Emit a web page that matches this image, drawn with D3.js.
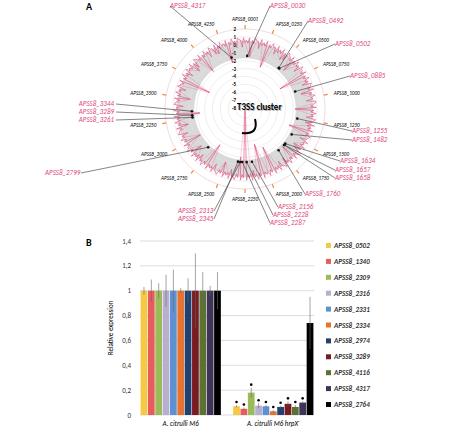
<!DOCTYPE html><html><head><meta charset="utf-8"><script src="https://cdn.jsdelivr.net/npm/d3@7"></script>
<style>body{margin:0;background:#fff}text{font-family:Carlito,"Liberation Sans",Arial,sans-serif}</style></head><body>
<svg id="c" width="474" height="430"></svg>
<script>
// ---------- Panel A data ----------
const genomeTicks=["0001","0250","0500","0750","1000","1250","1500","1750","2000","2250","2500","2750","3000","3250","3500","3750","4000","4250"];
const genomeLen=4500;
const ringValues=[2,1,0,-1,-2,-3,-4,-5,-6,-7,-8];
// log2 fold-change profile around genome (every 5°, starting at 0°)
const profile=[0.3,-1.5,0.6,0.2,-2.5,0.5,0.1,-0.5,0.7,-1.2,0.3,0.6,-3.0,0.2,0.7,-0.8,0.4,0.8,
 -1.8,0.3,0.7,0.0,-2.2,0.6,0.4,-0.6,0.8,-1.4,0.3,0.6,0.2,-2.8,0.4,-3.5,0.3,0.1,
 -8,-2.0,0.6,0.2,-1.0,0.7,0.3,-2.6,0.4,0.1,-0.9,0.6,-1.6,0.3,0.7,-0.7,0.2,-2.4,
 0.4,0.7,-1.1,0.3,0.6,-3.2,0.2,0.4,-0.6,0.7,-1.9,0.3,0.6,-0.4,0.4,-2.1,0.3,0.7];
const pinkGenes=[
 {n:"APSS8_4317",pos:4317,lx:170,ly:8,a:"start"},
 {n:"APSS8_0030",pos:30,lx:270,ly:8,a:"start"},
 {n:"APSS8_0492",pos:492,lx:308,ly:23,a:"start"},
 {n:"APSS8_0502",pos:502,lx:335,ly:46,a:"start"},
 {n:"APSS8_0885",pos:885,lx:350,ly:78,a:"start"},
 {n:"APSS8_3344",pos:3344,lx:114,ly:106,a:"end"},
 {n:"APSS8_3289",pos:3289,lx:114,ly:114,a:"end"},
 {n:"APSS8_3261",pos:3261,lx:114,ly:122,a:"end"},
 {n:"APSS8_1255",pos:1255,lx:352,ly:133,a:"start"},
 {n:"APSS8_1482",pos:1482,lx:352,ly:142,a:"start"},
 {n:"APSS8_1634",pos:1634,lx:340,ly:163,a:"start"},
 {n:"APSS8_1657",pos:1657,lx:335,ly:172,a:"start"},
 {n:"APSS8_1658",pos:1658,lx:335,ly:180,a:"start"},
 {n:"APSS8_1760",pos:1760,lx:305,ly:196,a:"start"},
 {n:"APSS8_2799",pos:2799,lx:45,ly:175,a:"start",right:true},
 {n:"APSS8_2313",pos:2313,lx:178,ly:213,a:"start",right:true},
 {n:"APSS8_2345",pos:2345,lx:178,ly:221,a:"start",right:true},
 {n:"APSS8_2156",pos:2156,lx:278,ly:209,a:"start"},
 {n:"APSS8_2228",pos:2228,lx:273,ly:217,a:"start"},
 {n:"APSS8_2287",pos:2287,lx:270,ly:225,a:"start"}];
// ---------- Panel B data ----------
const genes=["APSS8_0502","APSS8_1340","APSS8_2309","APSS8_2316","APSS8_2331","APSS8_2334","APSS8_2974","APSS8_3289","APSS8_4116","APSS8_4317","APSS8_2764"];
const colors=["#f6c945","#e95c5c","#9bbb59","#b7aed0","#5d91d2","#e8732e","#20406f","#7a1b24","#5b7233","#3e3458","#000000"];
const strains=["A. citrulli M6","A. citrulli M6 hrpX"];
const wtVals=[1,1,1,1,1,1,1,1,1,1,1];
const wtErr=[0.03,0.09,0.06,0.13,0.17,0.02,0.1,0.3,0.15,0.04,0.15];
const mutVals=[0.07,0.05,0.18,0.075,0.07,0.03,0.065,0.09,0.065,0.1,0.74];
const mutErr=[0.01,0.01,0.04,0.02,0.01,0.01,0.01,0.02,0.015,0.01,0.21];
const yTicks=["0","0,2","0,4","0,6","0,8","1","1,2","1,4"];

const svg=d3.select("#c");
const pink="#e0457a";
// ---------- A ----------
svg.append("text").attr("x",86).attr("y",10).attr("font-weight","bold").attr("font-size",10).text("A");
const cx=245,cy=109;
const r=d3.scaleLinear().domain([-8,2]).range([1,80]);
const ang=p=>p/genomeLen*2*Math.PI;
const g=svg.append("g").attr("transform",`translate(${cx},${cy})`);
g.append("path").attr("d",d3.arc()({innerRadius:r(-1.7),outerRadius:r(0.5),startAngle:0,endAngle:2*Math.PI})).attr("fill","#d9d9d9");
ringValues.forEach(v=>g.append("circle").attr("r",r(v)).attr("fill","none").attr("stroke","#e3e3e3").attr("stroke-width",0.6));
g.append("circle").attr("r",80).attr("fill","none").attr("stroke","#f0d0d8").attr("stroke-width",0.5);
ringValues.forEach(v=>g.append("text").attr("x",-9).attr("y",-r(v)+2).attr("text-anchor","end").attr("font-size",5).attr("font-weight","bold").text(v));
const ln=d3.lineRadial().angle((d,i)=>i/profile.length*2*Math.PI).radius(d=>r(d)).curve(d3.curveLinearClosed);
const dense=[];profile.forEach((v,i)=>{const nx=profile[(i+1)%profile.length];dense.push(v,0.6,(v+nx)/2>0?-0.3:0.2,0.9);});
g.append("path").attr("d",d3.lineRadial().angle((d,i)=>i/dense.length*2*Math.PI).radius(d=>r(d)).curve(d3.curveLinearClosed)(dense)).attr("fill","none").attr("stroke",pink).attr("stroke-width",0.6);
g.append("path").attr("d",ln(profile)).attr("fill","none").attr("stroke",pink).attr("stroke-width",0.4).attr("opacity",0.6);
genomeTicks.forEach(t=>{const a=ang(+t),R=90;const x=Math.sin(a)*R,y=-Math.cos(a)*R;
 g.append("line").attr("x1",Math.sin(a)*80).attr("y1",-Math.cos(a)*80).attr("x2",Math.sin(a)*84).attr("y2",-Math.cos(a)*84).attr("stroke","#f08a3c").attr("stroke-width",1.2);
 g.append("text").attr("x",x).attr("y",y+2).attr("text-anchor",Math.abs(x)<8?"middle":(x>0?"start":"end")).attr("font-size",5.2).attr("font-style","italic").text("APSS8_"+t);});
pinkGenes.forEach(p=>{const a=ang(p.pos),R=r(-1.4);const x=cx+Math.sin(a)*R,y=cy-Math.cos(a)*R;
 const tx=p.right?p.lx+36:p.lx+(p.a==="start"?0:2);
 svg.append("line").attr("x1",tx).attr("y1",p.ly-2).attr("x2",x).attr("y2",y).attr("stroke","#333").attr("stroke-width",0.6);
 svg.append("circle").attr("cx",x).attr("cy",y).attr("r",1.3).attr("fill","#111");
 svg.append("text").attr("x",p.lx).attr("y",p.ly).attr("text-anchor",p.a).attr("font-size",7).attr("font-style","italic").attr("fill",pink).text(p.n);});
svg.append("text").attr("x",cx+1).attr("y",cy+2).attr("x",238).attr("font-size",9).attr("font-weight","bold").attr("fill","#bbb").text("T3SS cluster");
svg.append("text").attr("x",237).attr("y",cy+1).attr("font-size",9).attr("font-weight","bold").text("T3SS cluster");
svg.append("path").attr("d",`M${cx+10},${cy+10} Q${cx+14},${cy+26} ${cx-3},${cy+24}`).attr("fill","none").attr("stroke","#000").attr("stroke-width",2);
// ---------- B ----------
svg.append("text").attr("x",86).attr("y",246).attr("font-weight","bold").attr("font-size",10).text("B");
const y=d3.scaleLinear().domain([0,1.4]).range([415,241]);
const x0=d3.scaleBand().domain(strains).range([140,314]).paddingInner(0.12);
const x1=d3.scaleBand().domain(genes).range([0,x0.bandwidth()]).padding(0.08);
yTicks.forEach((t,i)=>{const v=i*0.2;svg.append("line").attr("x1",140).attr("x2",314).attr("y1",y(v)).attr("y2",y(v)).attr("stroke","#ccc").attr("stroke-width",0.7);
 svg.append("text").attr("x",131).attr("y",y(v)+2.5).attr("text-anchor","end").attr("font-size",7).attr("fill","#333").text(t);});
svg.append("text").attr("transform","translate(113,328) rotate(-90)").attr("text-anchor","middle").attr("font-size",7).text("Relative expression");
[[wtVals,wtErr],[mutVals,mutErr]].forEach(([vals,errs],si)=>{const gx=x0(strains[si]);
 genes.forEach((gname,i)=>{const bx=gx+x1(gname),bw=x1.bandwidth();
  svg.append("rect").attr("x",bx).attr("y",y(vals[i])).attr("width",bw).attr("height",y(0)-y(vals[i])).attr("fill",colors[i]);
  const mx=bx+bw/2;svg.append("line").attr("x1",mx).attr("x2",mx).attr("y1",y(vals[i]+errs[i])).attr("y2",y(Math.max(0,vals[i]-errs[i]))).attr("stroke","#666").attr("stroke-width",0.6);
  if(si===1&&i<10)svg.append("circle").attr("cx",mx).attr("cy",y(vals[i]+errs[i])-3).attr("r",1.3).attr("fill","#000");});
});
svg.append("text").attr("x",x0(strains[0])+x0.bandwidth()/2).attr("y",426).attr("text-anchor","middle").attr("font-size",7).attr("font-style","italic").text(strains[0]);
const t2=svg.append("text").attr("x",x0(strains[1])+x0.bandwidth()/2).attr("y",426).attr("text-anchor","middle").attr("font-size",7).attr("font-style","italic").text(strains[1]);
t2.append("tspan").attr("dy",-3).attr("font-size",5).attr("font-style","normal").text("-");
genes.forEach((gn,i)=>{const ly=247+i*15.9;
 svg.append("rect").attr("x",326).attr("y",ly-4).attr("width",5).attr("height",5).attr("fill",colors[i]);
 svg.append("text").attr("x",334).attr("y",ly+1).attr("font-size",7).attr("font-style","italic").attr("font-weight","bold").attr("fill","#333").text(gn);});
</script></body></html>
